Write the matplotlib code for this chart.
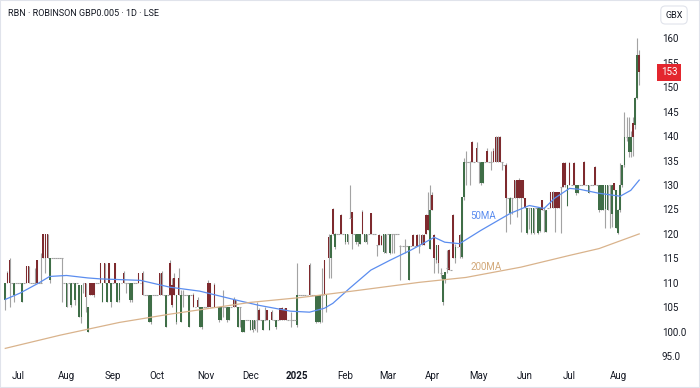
import numpy as np
import pandas as pd
import matplotlib
matplotlib.use('Agg')
import matplotlib.pyplot as plt
from matplotlib.patches import Rectangle
from matplotlib.transforms import blended_transform_factory

plt.rcParams['font.family'] = ['Roboto', 'DejaVu Sans']

# daily bars, 21 Jun 2024 .. 15 Aug 2025 (one line per month)
dates = pd.bdate_range('2024-06-21', '2025-08-15')

opens = [
    106.5, 112, 114.6, 110, 107.5, 110,
    110, 110, 106, 110, 113.4, 113.4, 110, 110, 110, 114.6, 110, 110, 120, 120, 120, 110.5, 115, 115, 115, 115, 115, 115, 110,
    105, 110, 105.5, 110, 106.4, 110, 103, 103, 110, 110, 100, 110, 110, 110, 110, 110, 114, 106, 114, 106, 114, 106,
    110, 114, 106, 106.5, 110, 112, 110, 110, 106.5, 106.5, 110, 110, 112, 110, 112, 107.5, 107.5, 102, 102, 107.5, 107.5,
    107.5, 112, 112, 107.5, 101, 107.5, 114, 109.5, 111, 102, 111, 102, 107.5, 107.5, 107.5, 101, 107.5, 107.5, 105, 106.5, 101, 101, 105,
    105, 110, 110, 105, 109.5, 105, 102.4, 102.4, 105, 105, 102.4, 102.4, 105, 106.5, 106.4, 101, 105, 100, 100, 102.4, 102.4,
    100.3, 100.3, 100.5, 102.4, 104.4, 102.4, 100.3, 102.4, 104.4, 100.3, 104, 102.4, 101, 102.4, 104.8, 104.8, 104.4, 104.8, 102.4, 102.4, 102.4, 102.4,
    101.3, 107.5, 107.5, 107.5, 107.5, 107.5, 113.6, 107.5, 107.5, 102, 102, 102, 107.5, 114.6, 104.8, 119.3, 115, 125, 117.3, 120, 120, 123.8, 120,
    118.3, 118.3, 123.3, 124.4, 120, 118.3, 118.3, 118, 124.4, 118.3, 118.3, 120, 124.2, 120, 120, 117.7, 119.8, 119.5, 116.4, 116,
    120, 116, 120, 120, 120, 120, 117.5, 117.5, 117.5, 117.5, 110.5, 117.5, 119.7, 117.5, 119.7, 117.5, 119.7, 119.7, 123.8, 123.8, 117,
    127.9, 119.7, 114.6, 117.7, 112, 106, 110.5, 113, 116.7, 112.6, 123.8, 115, 117.3, 119.7, 115.2, 127.5, 134.7, 134.7, 134.7, 138.7, 134.7, 137.5,
    134.7, 130.4, 130.4, 134.7, 137, 134.7, 134.7, 137, 139.8, 139.8, 139.8, 134.7, 134, 134, 127.3, 124.2, 127.3, 131, 131, 131, 131, 131,
    127.3, 120.1, 125.3, 120.1, 120.1, 125.3, 120.1, 120.5, 126.9, 124.8, 120.3, 125.3, 128.5, 128.5, 128.5, 128.5, 128.5, 129.5, 134.4, 134.4, 125.8,
    134.4, 130, 134.4, 128.3, 128.3, 130, 130, 134.6, 130, 128.3, 130, 130, 133.6, 130, 124.8, 124.8, 124.8, 125, 124.8, 130, 124, 130.4, 121.3,
    120.1, 124.8, 130, 134, 139.8, 136.7, 136.7, 142.6, 142.2, 147.7, 156.5,
]
highs = [
    110, 112.5, 115, 110, 110, 110,
    110, 110, 110, 110, 113.4, 113.4, 110, 110, 113, 114.6, 110, 116, 120, 120, 120, 115, 115, 115, 115, 115, 115, 115, 110,
    110, 110, 110, 110, 110, 110, 109.5, 109.5, 110, 110, 105, 110, 110, 110, 110, 110, 114, 110, 114, 110, 114, 110,
    110, 114, 110, 110, 110, 112.5, 110, 110, 110, 110, 110, 110, 112, 110, 112.5, 107.5, 107.5, 107.5, 107.5, 107.5, 107.5,
    107.5, 112, 112.5, 107.5, 107.5, 107.5, 114.6, 111, 112, 107.5, 113, 108.5, 108.5, 107.5, 107.5, 107.5, 107.5, 108, 105, 107, 105, 105, 105,
    105, 110.5, 110, 105, 110, 105, 105, 105, 108.5, 105, 105, 105, 105, 107, 106.5, 105, 105, 102.4, 102.4, 102.4, 102.4,
    102.4, 102.4, 102.4, 106, 104.8, 102.4, 102.4, 105, 104.5, 102.4, 104.4, 102.4, 102.4, 102.4, 104.8, 105, 104.8, 104.8, 102.4, 104, 102.4, 102.4,
    114, 107.5, 107.5, 107.5, 107.5, 107.5, 114, 107.5, 107.5, 107.5, 107.5, 107.5, 113, 114.6, 107.5, 120, 120, 125.2, 120.1, 120, 120, 124, 120,
    120, 120, 130, 124.5, 120, 120, 120, 120, 124.8, 120, 120, 120, 124.2, 120, 120, 117.7, 120, 119.8, 120, 120,
    120, 120, 120, 120, 120, 120, 117.7, 117.5, 119, 117.5, 117.5, 117.5, 120, 117.5, 120, 120, 120, 120, 124, 128.5, 130,
    128.5, 120, 117.7, 117.7, 113, 111.6, 112.2, 116.7, 117, 112.6, 124, 118, 117.3, 120, 127.5, 135.5, 137, 134.7, 135, 139, 134.7, 138.7,
    134.7, 134.7, 134.7, 134.7, 137.5, 134.7, 137, 137.5, 140, 140, 140, 134.7, 134, 134.5, 127.3, 127.5, 127.3, 131, 131, 131.5, 131, 131,
    127.3, 125.3, 125.3, 125.3, 125.3, 125.3, 125.3, 125.3, 127, 125.5, 124.8, 125.3, 128.5, 128.7, 128.5, 128.5, 128.5, 129.5, 134.6, 134.6, 130,
    134.6, 130, 134.6, 130, 130, 130, 130, 135, 130, 130, 130, 130, 133.8, 130, 130, 130, 130, 130, 130, 130, 130, 130.5, 129,
    125, 134.4, 134, 144.9, 143.8, 143.8, 141, 143.8, 148, 160, 157.5,
]
lows = [
    104.5, 110, 105, 110, 106, 110,
    110, 110, 106, 110, 110, 110, 110, 110, 110, 110, 110, 110, 115, 112, 115, 110, 115, 115, 115, 115, 115, 106, 110,
    105, 110, 105, 110, 105.5, 110, 103, 101.7, 108, 104, 100, 107.5, 107.5, 107, 110, 110, 110, 106, 110, 106, 110, 105,
    110, 110, 106, 106, 110, 110, 108, 110, 106, 106, 110, 110, 110, 110, 107.5, 107.5, 107.5, 102, 101.5, 107.5, 107.5,
    107.5, 107.5, 107.5, 107.5, 101, 107.5, 107.5, 105, 107.5, 101.5, 107.5, 102, 105, 107.5, 107.5, 101, 107.5, 105, 105, 105, 101, 100.5, 105,
    105, 105, 105, 105, 105, 105, 102, 102.4, 103, 105, 102, 102.4, 105, 105, 105, 101, 101, 100, 100, 102.4, 102.4,
    100.3, 100, 100.3, 100, 102.4, 102.4, 100.3, 102.4, 102.4, 100.3, 102.4, 102.4, 100.5, 102.4, 102.4, 102.4, 102.4, 102.4, 102.4, 101, 102.4, 102.4,
    101, 107.5, 107.5, 107.5, 107.5, 107.5, 107.5, 107.5, 107.5, 101.7, 102, 101.7, 102, 107.5, 104, 111, 111, 119.8, 117, 120, 120, 120, 120,
    118, 118, 123.3, 117, 120, 118, 117.5, 118, 120, 118.3, 118, 120, 120, 120, 120, 115.5, 117.7, 117.7, 116, 116,
    120, 115.8, 116, 116, 120, 120, 110.5, 117.5, 116, 117.5, 110.5, 117.5, 117.5, 117.5, 117.5, 116, 117.7, 117.7, 120, 120.7, 117,
    124.8, 112, 114, 112, 111, 105.5, 110, 112, 112.6, 112.6, 115, 114, 117.3, 115, 115, 127, 130, 134.7, 130, 134.7, 134.7, 134.7,
    130.4, 130, 130.4, 134.7, 134.7, 134.7, 133, 134.7, 134.7, 134.7, 134.7, 133, 134, 120.3, 127.3, 122, 124, 127.3, 123.4, 127.3, 120.3, 127.3,
    125.3, 120, 121, 120, 120, 125.3, 120, 120.3, 124.8, 120.3, 120.3, 125.3, 125.3, 125.3, 120.3, 125.3, 125.3, 120.1, 129.5, 129.5, 125.8,
    130, 130, 130, 128, 128.3, 130, 130, 130, 130, 128.3, 130, 130, 130, 130, 124.5, 124.8, 124.8, 121.2, 124.8, 121.2, 121.4, 128.9, 121.3,
    120, 124.5, 129.5, 133.6, 139, 135.7, 135.7, 136, 141.5, 147.5, 150.5,
]
closes = [
    110, 110, 110, 110, 110, 110,
    110, 110, 110, 110, 110, 110, 110, 110, 110, 110, 110, 110, 115, 115, 115, 115, 115, 115, 115, 115, 115, 115, 110,
    110, 110, 110, 110, 110, 110, 109.5, 109.5, 110, 107, 105, 107.5, 107.5, 107.5, 110, 110, 110, 110, 110, 110, 110, 110,
    110, 110, 110, 110, 110, 110, 110, 110, 110, 110, 110, 110, 110, 110, 107.5, 107.5, 107.5, 107.5, 107.5, 107.5, 107.5,
    107.5, 107.5, 107.5, 107.5, 107.5, 107.5, 107.5, 105.5, 107.5, 107.5, 107.5, 107.5, 107.5, 107.5, 107.5, 107.5, 107.5, 105, 105, 105, 105, 105, 105,
    105, 105, 105, 105, 105, 105, 105, 105, 105, 105, 105, 105, 105, 105, 105, 105, 105, 102.4, 102.4, 102.4, 102.4,
    102.4, 102.4, 102.4, 102.4, 102.4, 102.4, 102.4, 102.4, 102.4, 102.4, 102.4, 102.4, 102.4, 102.4, 102.4, 102.4, 102.4, 102.4, 102.4, 102.4, 102.4, 102.4,
    107.5, 107.5, 107.5, 107.5, 107.5, 107.5, 107.5, 107.5, 107.5, 107.5, 107.5, 107.5, 107.5, 107.5, 107.5, 115, 119.8, 120, 120, 120, 120, 120, 120,
    120, 120, 123.3, 120, 120, 120, 120, 120, 120, 120, 120, 120, 120, 120, 120, 117.7, 117.7, 117.7, 120, 120,
    120, 120, 120, 120, 120, 120, 117.5, 117.5, 117.5, 117.5, 117.5, 117.5, 117.5, 117.5, 117.5, 117.5, 117.7, 117.7, 120, 120.7, 124.8,
    124.8, 115, 117.7, 114, 112, 111.6, 112.2, 113, 112.6, 112.6, 115, 117.3, 117.3, 117.3, 127.5, 134.7, 134.7, 134.7, 134.7, 134.7, 134.7, 134.7,
    134.7, 134.7, 134.7, 134.7, 134.7, 134.7, 134.7, 134.7, 134.7, 134.7, 134.7, 134.7, 134, 127.3, 127.3, 127.3, 127.3, 127.3, 127.3, 127.3, 127.3, 127.3,
    125.3, 125.3, 125.3, 125.3, 125.3, 125.3, 125.3, 125.3, 124.8, 124.8, 124.8, 125.3, 125.3, 125.3, 125.3, 125.3, 125.3, 129.5, 129.5, 130, 130,
    130, 130, 130, 130, 130, 130, 130, 130, 130, 130, 130, 130, 130, 130, 130, 130, 130, 130, 130, 130, 130, 128.9, 129,
    124.8, 130, 134, 139.8, 139.8, 139.8, 139.8, 139.8, 147.7, 156.5, 153,
]

# moving averages, read at a few dates
ma50_dates = ['2024-06-21', '2024-07-02', '2024-07-15', '2024-07-22', '2024-08-01', '2024-08-15',
              '2024-08-23', '2024-09-19', '2024-10-09', '2024-10-29', '2024-11-22', '2024-12-06',
              '2024-12-27', '2025-01-09', '2025-01-20', '2025-01-24', '2025-02-05', '2025-02-19',
              '2025-03-04', '2025-03-18', '2025-04-02', '2025-04-09', '2025-04-18', '2025-05-02',
              '2025-05-22', '2025-06-04', '2025-06-13', '2025-06-20', '2025-07-01', '2025-07-08',
              '2025-07-21', '2025-08-04', '2025-08-11', '2025-08-15']
ma50_vals = [106.6, 107.9, 110, 111.3, 111.5, 111, 110.8, 110.5, 109.1, 108.3, 106.4, 105.4,
             104.2, 104, 104.8, 105.8, 108.9, 112.6, 114.6, 116.7, 119.3, 118.3, 118, 120.7,
             124.2, 125.8, 125.2, 127.3, 129.3, 129.1, 128.3, 127.7, 128.9, 131]
ma200_dates = ['2024-06-21', '2024-07-29', '2024-09-05', '2024-10-09', '2024-12-02', '2025-01-03',
               '2025-02-10', '2025-03-24', '2025-04-23', '2025-05-29', '2025-07-01', '2025-07-21',
               '2025-08-15']
ma200_vals = [96.6, 99.3, 101.9, 103.6, 106, 107, 108.4, 110.1, 111.1, 113.2, 115.6, 117, 120]

month_labels = ['Jul', 'Aug', 'Sep', 'Oct', 'Nov', 'Dec', '2025',
                'Feb', 'Mar', 'Apr', 'May', 'Jun', 'Jul', 'Aug']
month_starts = pd.date_range('2024-07-01', '2025-08-01', freq='MS')
price_ticks = [95, 100, 105, 110, 115, 120, 125, 130, 135, 140, 145, 150, 155, 160]
price_labels = ['95.0', '100.0', '105', '110', '115', '120', '125', '130', '135',
                '140', '145', '150', '155', '160']
last_price = 153

GREEN = '#3f6e47'
RED = '#7e2a2e'
WICK = '#a3a3a3'
TEXT = '#131722'

o = np.array(opens)
h = np.array(highs)
l = np.array(lows)
c = np.array(closes)
x = np.arange(len(dates))
up = c > o
down = c < o
flat = c == o

fig = plt.figure(figsize=(7, 3.88), dpi=100)
ax = fig.add_axes([0, 23 / 388, 650 / 700, 363 / 388])

ax.vlines(x, l, h, color=WICK, lw=0.8, zorder=1)
ax.bar(x[up], c[up] - o[up], bottom=o[up], width=0.8, color=GREEN, lw=0, zorder=2)
ax.bar(x[down], o[down] - c[down], bottom=c[down], width=0.8, color=RED, lw=0, zorder=2)
ax.hlines(c[flat], x[flat] - 0.45, x[flat] + 0.45, color=WICK, lw=0.8, zorder=2)

pos50 = dates.get_indexer(pd.to_datetime(ma50_dates))
pos200 = dates.get_indexer(pd.to_datetime(ma200_dates))
ax.plot(pos50, ma50_vals, color='#5b8def', lw=0.9, zorder=3)
ax.plot(pos200, ma200_vals, color='#d9b38c', lw=0.9, zorder=3)
ax.text(220, 123.6, '50MA', color='#5b8def', fontsize=7, ha='left', va='center')
ax.text(220, 113.2, '200MA', color='#d2a878', fontsize=7, ha='left', va='center')

ax.set_xlim(-2.5, 305.1)
ax.set_ylim(93.2, 167.4)
for s in ax.spines.values():
    s.set_visible(False)

ticks_x = [int(np.argmax(dates >= m)) for m in month_starts]
ax.set_xticks(ticks_x)
ax.set_xticklabels(month_labels)
ax.tick_params(axis='x', length=0, pad=4, labelsize=7, labelcolor=TEXT)
ax.get_xticklabels()[6].set_fontweight('bold')

ax.yaxis.tick_right()
ax.set_yticks(price_ticks)
ax.set_yticklabels(price_labels)
ax.tick_params(axis='y', length=0, pad=8.5, labelsize=7, labelcolor=TEXT)

trans = blended_transform_factory(ax.transAxes, ax.transData)
ax.text(1.017, last_price, str(last_price), transform=trans, ha='left', va='center',
        color='white', fontsize=7, zorder=5, clip_on=False,
        bbox=dict(boxstyle='square,pad=0.4', fc='#e3262e', ec='none'))

fig.text(8 / 700, 1 - 13 / 388, 'RBN · ROBINSON GBP0.005 · 1D · LSE', ha='left', va='center',
         fontsize=6.5, color=TEXT)
fig.text(674 / 700, 1 - 15 / 388, 'GBX', ha='center', va='center', fontsize=6.5, color=TEXT,
         bbox=dict(boxstyle='round,pad=0.5', fc='white', ec='#e0e3eb', lw=0.8))
fig.add_artist(Rectangle((0, 0), 1, 1, transform=fig.transFigure, fill=False,
                         ec='#e0e3eb', lw=1.5))

fig.savefig('out.png', dpi=100)
